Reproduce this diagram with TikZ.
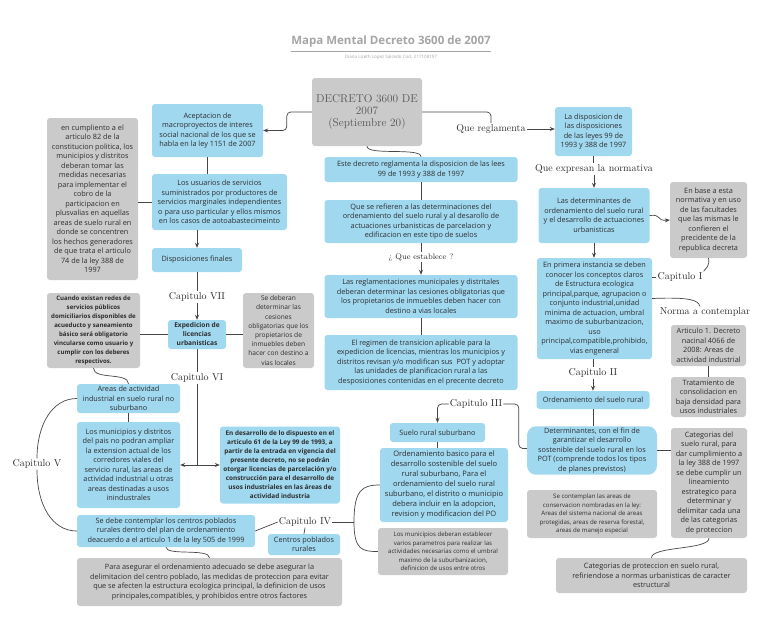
\documentclass[tikz,border=0pt]{standalone}
\usepackage{fontspec}
\newfontfamily\osans{Open Sans}
\usetikzlibrary{arrows.meta,calc}
\definecolor{bl}{RGB}{160,216,240}
\definecolor{gr}{RGB}{202,202,202}
\definecolor{tx}{RGB}{45,45,45}
\definecolor{ln}{RGB}{70,70,70}
\definecolor{ttl}{RGB}{165,165,165}
\begin{document}
\begin{tikzpicture}[x=1pt,y=-1pt,
  box/.style={rounded corners=3pt, align=center, text=tx, inner sep=1.5pt, font=\osans\fontsize{7.3}{9.5}\selectfont},
  bbox/.style={box, fill=bl},
  gbox/.style={box, fill=gr},
  wh/.style 2 args={minimum width=#1pt, minimum height=#2pt},
  lab/.style={font=\fontsize{10}{11}\selectfont, text=tx, inner sep=1pt},
  conn/.style={draw=ln, line width=0.7pt},
  arr/.style={conn, -{Stealth[length=5pt,width=4pt]}},
]
\fill[white] (0,0) rectangle (768,618);
\useasboundingbox (0,0) rectangle (768,618);

% title
\node[font=\osans\bfseries\fontsize{11.5}{13}\selectfont, text=ttl] (title) at (391,42) {Mapa Mental Decreto 3600 de 2007};
\draw[ttl, line width=0.6pt] ($(title.south west)+(3,0)$) -- ($(title.south east)+(-3,0)$);
\node[font=\osans\fontsize{4.5}{5}\selectfont, text=ttl] (sub) at (391,57) {Diana Lizeth Lopez Salcedo Cod. 217108197};

% center
\node[gbox, wh={110}{68}, text={rgb,255:red,85;green,85;blue,85}, font=\fontsize{11.3}{11.8}\selectfont] (decreto) at (367,112) {DECRETO 3600 DE\\2007\\(Septiembre 20)};
\node[bbox, wh={193}{25}] (este) at (421,169.5) {Este decreto reglamenta la disposicion de las lees\\99 de 1993 y 388 de 1997};
\node[bbox, wh={193}{43}] (quese) at (421,221.5) {Que se refieren a las determinaciones del\\ordenamiento del suelo rural y al desarollo de\\actuaciones urbanisticas de parcelacion y\\edificacion en este tipo de suelos};
\node[lab, font=\fontsize{8}{9}\selectfont] (queest) at (421,257) {¿ Que establece ?};
\node[bbox, wh={193}{43}] (lasreg) at (421,296.5) {Las reglamentaciones municipales y distritales\\deberan determinar las cesiones obligatorias que\\los propietarios de inmuebles deben hacer con\\destino a vias locales};
\node[bbox, wh={193}{55}] (regimen) at (421,362.5) {El regimen de transicion aplicable para la\\expedicion de licencias, mientras los municipios y\\distritos revisan y/o modifican sus\ \ POT y adoptar\\las unidades de planificacion rural a las\\desposiciones contenidas en el precente decreto};
\node[lab] (cap3) at (476,404) {Capitulo III};
\node[bbox, wh={95}{19}] (suelo) at (437.5,432.5) {Suelo rural suburbano};
\node[bbox, wh={128}{74}, font=\osans\fontsize{7.5}{10}\selectfont] (ordbas) at (444,485) {Ordenamiento basico para el\\desarrollo sostenible del suelo\\rural suburbano, Para el\\ordenamiento del suelo rural\\suburbano, el distrito o municipio\\debera incluir en la adopcion,\\revision y modificacion del PO};
\node[gbox, wh={130}{47}, font=\osans\fontsize{6.1}{8.5}\selectfont] (losmund) at (443,551.5) {Los municipios deberan establecer\\varios parametros para realizar las\\actividades necesarias como el umbral\\maximo de la suburbanizacion,\\definicion de usos entre otros};

% left
\node[bbox, wh={111}{53}] (acep) at (207.5,130.5) {Aceptacion de\\macroproyectos de interes\\social nacional de los que se\\habla en la ley 1151 de 2007};
\node[gbox, wh={91}{162}] (gc) at (92.5,199) {en cumpliento a el\\articulo 82 de la\\constitucion politica, los\\municipios y distritos\\deberan tomar las\\medidas necesarias\\para implementar el\\cobro de la\\participacion en\\plusvalias en aquellas\\areas de suelo rural en\\donde se concentren\\los hechos generadores\\de que trata el articulo\\74 de la ley 388 de\\1997};
\node[bbox, wh={135}{56}] (usu) at (219.5,202) {Los usuarios de servicios\\suministrados por productores de\\servicios marginales independientes\\o para uso particular y ellos mismos\\en los casos de aotoabastecimeinto};
\node[bbox, wh={90}{24}] (disp) at (197,260) {Disposiciones finales};
\node[lab] (cap7) at (197,297) {Capitulo VII};
\node[gbox, wh={93}{75}, font=\osans\bfseries\fontsize{6.1}{9.1}\selectfont] (cuando) at (93.5,330.5) {Cuando existan redes de\\servicios públicos\\domiciliarios disponibles de\\acueducto y saneamiento\\básico será obligatorio\\vincularse como usuario y\\cumplir con los deberes\\respectivos.};
\node[bbox, wh={58}{29}, font=\osans\bfseries\fontsize{6.6}{9}\selectfont] (exped) at (197,334.5) {Expedicion de\\licencias\\urbanisticas};
\node[gbox, wh={71}{75}, font=\osans\fontsize{6.6}{9.2}\selectfont] (sedeb) at (278.5,330.5) {Se deberan\\determinar las\\cesiones\\obligatorias que los\\propietarios de\\inmuebles deben\\hacer con destino a\\vias locales};
\node[lab] (cap6) at (197,378) {Capitulo VI};
\node[bbox, wh={103}{29}] (areas) at (128.5,398.5) {Areas de actividad\\industrial en suelo rural no\\suburbano};
\node[bbox, wh={103}{86}] (losmun) at (128.5,465) {Los municipios y distritos\\del pais no podran ampliar\\la extension actual de los\\corredores viales del\\servicio rural, las areas de\\actividad industrial u otras\\areas destinadas a usos\\inindustrales};
\node[bbox, wh={120}{77}, font=\osans\bfseries\fontsize{6.4}{9}\selectfont] (endes) at (280,465) {En desarrollo de lo dispuesto en el\\articulo 61 de la Ley 99 de 1993, a\\partir de la entrada en vigencia del\\presente decreto, no se podrán\\otorgar licencias de parcelación y/o\\construcción para el desarrollo de\\usos industriales en las áreas de\\actividad industria};
\node[lab] (cap5) at (37,464) {Capitulo V};
\node[bbox, wh={178}{32}] (sedebe) at (166,531) {Se debe contemplar los centros poblados\\rurales dentro del plan de ordenamiento\\deacuerdo a el articulo 1 de la ley 505 de 1999};
\node[lab] (cap4) at (305,522) {Capitulo IV};
\node[bbox, wh={72}{21}] (centros) at (304,544.5) {Centros poblados\\rurales};
\node[gbox, wh={265}{48}] (para) at (209.5,582) {Para asegurar el ordenamiento adecuado se debe asegurar la\\delimitacion del centro poblado, las medidas de proteccion para evitar\\que se afecten la estructura ecologica principal, la definicion de usos\\principales,compatibles, y prohibidos entre otros factores};

% right
\node[lab] (queregl) at (491,129) {Que reglamenta};
\node[bbox, wh={77}{49}] (ladisp) at (593.5,131.5) {La disposicion de\\las disposiciones\\de las leyes 99 de\\1993 y 388 de 1997};
\node[lab] (queexp) at (594,169) {Que expresan la normativa};
\node[bbox, wh={111}{55}] (lasdet) at (594,215.5) {Las determinantes de\\ordenamiento del suelo rural\\y el desarrollo de actuaciones\\urbanisticas};
\node[gbox, wh={77}{76}] (enbase) at (708.5,220) {En base a esta\\normativa y en uso\\de las facultades\\que las mismas le\\confieren el\\precidente de la\\republica decreta};
\node[bbox, wh={115}{101}] (enprim) at (594.5,308.5) {En primera instancia se deben\\conocer los conceptos claros\\de Estructura ecologica\\principal,parque, agrupacion o\\conjunto industrial,unidad\\minima de actuacion, umbral\\maximo de suburbanizacion,\\uso\\principal,compatible,prohibido,\\vias engeneral};
\node[lab] (cap1) at (680,277) {Capitulo I};
\node[lab] (norma) at (705,312) {Norma a contemplar};
\node[gbox, wh={75}{41}] (artic) at (708.5,345.5) {Articulo 1. Decreto\\nacinal 4066 de\\2008: Areas de\\actividad industrial};
\node[gbox, wh={75}{40}] (trat) at (708.5,397) {Tratamiento de\\consolidacion en\\baja densidad para\\usos industriales};
\node[lab] (cap2) at (593,373) {Capitulo II};
\node[bbox, wh={113}{18}] (ordsr) at (593,400) {Ordenamiento del suelo rural};
\node[bbox, wh={130}{47}, rounded corners=9pt] (determ) at (592,450.5) {Determinantes, con el fin de\\garantizar el desarrollo\\sostenible del suelo rural en los\\POT (comprende todos los tipos\\de planes previstos)};
\node[gbox, wh={76}{110}] (catsr) at (709,483) {Categorias del\\suelo rural, para\\dar cumplimiento a\\la ley 388 de 1997\\se debe cumplir un\\lineamiento\\estrategico para\\determinar y\\delimitar cada una\\de las categorias\\de proteccion};
\node[gbox, wh={130}{48}, font=\osans\fontsize{6.1}{8.5}\selectfont] (secont) at (592,514) {Se contemplan las areas de\\conservacion nombradas en la ley:\\Areas del sistema nacional de areas\\protegidas, areas de reserva forestal,\\areas de manejo especial};
\node[gbox, wh={191}{35}] (catprot) at (651.5,575.5) {Categorias de proteccion en suelo rural,\\refiriendose a normas urbanisticas de caracter\\estructural};

% connectors center
\draw[conn] (decreto.south) .. controls (367,156) and (421,147) .. (este.north);
\draw[conn] (este.south) -- (quese.north);
\draw[conn] (quese.south) -- (queest.north);
\draw[arr] (queest.south) -- (lasreg.north);
\draw[conn] (lasreg.south) -- (regimen.north);
\draw[arr, rounded corners=4pt] (cap3.west) -| (suelo.north);
\draw[conn, rounded corners=4pt] (cap3.east) -| ($(determ.west)+(-8,-2)$) -- ($(determ.west)+(0,-2)$);
\draw[conn] (suelo.south) -- (suelo.south |- ordbas.north);
\coordinate (b4) at (354,522);
\draw[conn] (cap4.east) -- (b4);
\draw[conn] (b4) .. controls (354,490) and (362,485) .. (ordbas.west);
\draw[conn] (b4) .. controls (354,550) and (362,551.5) .. (losmund.west);

% connectors left
\draw[arr, rounded corners=4pt] (decreto.west) -- ++(-25,0) |- (acep.east);
\draw[conn] (acep.south) -- (acep.south |- usu.north);
\draw[conn] (usu.west) -- (usu.west -| gc.east);
\draw[arr] (disp.north |- usu.south) -- (disp.north);
\draw[conn] (disp.south) -- (cap7.north);
\draw[arr] (cap7.south) -- (exped.north);
\draw[conn] (exped.west) -- (exped.west -| cuando.east);
\draw[conn] (exped.east) -- (exped.east -| sedeb.west);
\draw[conn] (exped.south) -- (cap6.north);
\coordinate (j6) at (197,465);
\draw[conn] (cap6.south) -- (j6);
\draw[arr] (j6) -- (losmun.east);
\draw[arr] (j6) -- (endes.west);
\draw[conn] (cuando.south) .. controls (93.5,380) and (128.5,372) .. (areas.north);
\draw[conn] (areas.south) -- (losmun.north);
\draw[conn] (areas.west) .. controls (52,398.5) and (37,425) .. (cap5.north);
\draw[conn] (cap5.south) .. controls (37,505) and (52,531) .. (sedebe.west);
\draw[conn] (sedebe.east) -- (cap4.west);
\draw[conn] (cap4.south) -- (centros.north);
\draw[conn] (sedebe.south) .. controls (166,556) and (209.5,548) .. (para.north);

% connectors right
\draw[conn, rounded corners=4pt] (decreto.east) -| (queregl.north);
\draw[arr] (queregl.east) -- (queregl.east -| ladisp.west);
\draw[conn] (ladisp.south) -- (ladisp.south |- queexp.north);
\draw[arr] (queexp.south) -- (queexp.south |- lasdet.north);
\draw[arr] (lasdet.east) .. controls (662,214) and (656,221) .. (enbase.west);
\draw[arr] (lasdet.south) -- (lasdet.south |- enprim.north);
\draw[conn] (enprim.east |- cap1.west) -- (cap1.west);
\draw[conn] (cap1.north east) .. controls (706,268) and (710,266) .. (enbase.south);
\draw[conn] ($(enprim.east)+(0,-10)$) .. controls (690,297) and (698,300) .. ($(norma.north)+(-5,0)$);
\draw[conn] ($(norma.south)+(3,0)$) -- ($(norma.south)+(3,0)$ |- artic.north);
\draw[conn] (artic.south) -- (trat.north);
\draw[conn] (cap2.north |- enprim.south) -- (cap2.north);
\draw[arr] (cap2.south) -- (ordsr.north);
\draw[conn] (ordsr.south) -- (ordsr.south |- determ.north);
\draw[conn] (determ.east) -- (determ.east -| catsr.west);
\draw[conn] (catsr.south) .. controls (709,550) and (651.5,546) .. (catprot.north);
\end{tikzpicture}
\end{document}
